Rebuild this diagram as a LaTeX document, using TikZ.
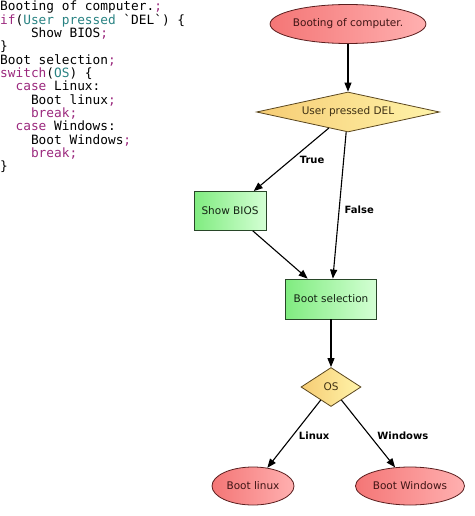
\documentclass[tikz,border=0pt]{standalone}
\usepackage{fontspec}
\setmainfont{DejaVu Sans}
\setmonofont{DejaVu Sans Mono}
\usepackage{tikz}
\usetikzlibrary{shapes.geometric, arrows.meta, positioning}
\definecolor{redleft}{RGB}{244, 118, 118}
\definecolor{redright}{RGB}{255, 176, 176}
\definecolor{redline}{RGB}{90, 30, 30}
\definecolor{greenleft}{RGB}{128, 236, 128}
\definecolor{greenright}{RGB}{212, 255, 212}
\definecolor{greenline}{RGB}{40, 70, 40}
\definecolor{yellowleft}{RGB}{246, 204, 116}
\definecolor{yellowright}{RGB}{255, 244, 170}
\definecolor{yellowline}{RGB}{90, 70, 30}
\definecolor{kwpurple}{RGB}{155, 40, 125}
\definecolor{idteal}{RGB}{40, 130, 130}
\newcommand{\kw}[1]{\textcolor{kwpurple}{#1}}
\newcommand{\id}[1]{\textcolor{idteal}{#1}}
\newcommand{\ind}[1]{\hphantom{#1}}

\begin{document}
\begin{tikzpicture}[
    x=1pt, y=-1pt,
    every node/.style={font=\fontsize{10.5}{12}\selectfont, inner sep=0pt},
    terminal/.style={ellipse, draw=redline, line width=0.8pt, left color=redleft, right color=redright,
                     text=redline!70!black},
    process/.style={rectangle, draw=greenline, line width=0.8pt, left color=greenleft, right color=greenright,
                    text=greenline!50!black},
    decision/.style={diamond, draw=yellowline, line width=0.8pt, left color=yellowleft, right color=yellowright,
                     text=yellowline!70!black},
    flow/.style={draw, line width=1.1pt, -{Triangle[length=9pt,width=7pt]}},
    lbl/.style={font=\fontsize{10}{12}\selectfont\bfseries},
    codeline/.style={anchor=base west, font=\fontsize{12.8}{13.3}\selectfont\ttfamily}
]
    \useasboundingbox (0,0) rectangle (474,516);

    % pseudo code listing
    \foreach \txt [count=\i from 0] in {
        {Booting of computer.\kw{;}},
        {\kw{if}(\id{User pressed} `DEL`) \{},
        {\ind{xxxx}Show BIOS\kw{;}},
        {\}},
        {Boot selection\kw{;}},
        {\kw{switch}(\id{OS}) \{},
        {\ind{xx}\kw{case} Linux:},
        {\ind{xxxx}Boot linux\kw{;}},
        {\ind{xxxx}\kw{break;}},
        {\ind{xx}\kw{case} Windows:},
        {\ind{xxxx}Boot Windows\kw{;}},
        {\ind{xxxx}\kw{break;}},
        {\}}
    }
        \node[codeline] (code\i) at (0, 10.7+13.33*\i) {\txt};

    % flow chart
    \node[terminal, minimum width=150pt, minimum height=39pt] (boot) at (348, 24) {Booting of computer.};
    \node[decision, aspect=4.6, minimum width=183pt, minimum height=40pt] (del) at (348, 112) {User pressed DEL};
    \node[process, minimum width=72pt, minimum height=39pt] (bios) at (230, 211) {Show BIOS};
    \node[process, minimum width=91pt, minimum height=40pt] (select) at (331, 299) {Boot selection};
    \node[decision, aspect=1.5, minimum width=60pt, minimum height=39pt] (os) at (331, 387) {OS};
    \node[terminal, minimum width=82pt, minimum height=38pt] (linux) at (253, 486) {Boot linux};
    \node[terminal, minimum width=109pt, minimum height=38pt] (windows) at (410, 486) {Boot Windows};

    \draw[flow] (boot) -- (del);
    \draw[flow] (del) -- node[lbl, pos=0.5, right=8pt] (ltrue) {True} (bios);
    \draw[flow] (del) -- node[lbl, pos=0.53, right=5pt] (lfalse) {False} (select);
    \draw[flow] (bios) -- (select);
    \draw[flow] (select) -- (os);
    \draw[flow] (os) -- node[lbl, pos=0.53, right=6pt] (llinux) {Linux} (linux);
    \draw[flow] (os) -- node[lbl, pos=0.53, right=7pt] (lwin) {Windows} (windows);
\end{tikzpicture}
\end{document}
